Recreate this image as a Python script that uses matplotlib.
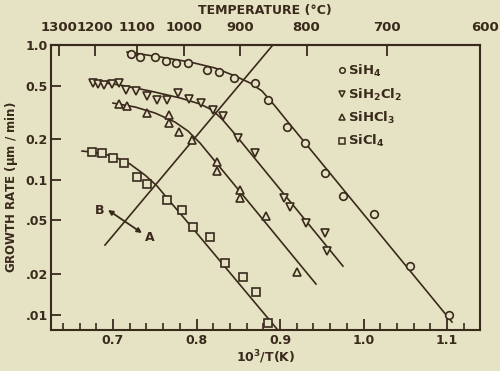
import matplotlib
matplotlib.use('Agg')
import matplotlib.pyplot as plt
from matplotlib.lines import Line2D
from matplotlib.ticker import NullLocator, FixedLocator

BG = '#e6e2c4'
INK = '#3a2a1c'

# --- measured points (x = 10^3/T(K), y = growth rate um/min) ---
sih4_x = [0.722, 0.732, 0.750, 0.764, 0.776, 0.790, 0.813, 0.827, 0.845, 0.870,
          0.886, 0.908, 0.930, 0.954, 0.975, 1.013, 1.056, 1.102]
sih4_y = [0.858, 0.81, 0.81, 0.765, 0.739, 0.732, 0.652, 0.627, 0.566, 0.52,
          0.391, 0.245, 0.1885, 0.1117, 0.0759, 0.0555, 0.023, 0.00993]

sih2cl2_x = [0.676, 0.682, 0.689, 0.699, 0.707, 0.716, 0.728, 0.741, 0.753, 0.765, 0.778,
             0.791, 0.805, 0.820, 0.832, 0.850, 0.870, 0.905, 0.912, 0.931, 0.954, 0.956]
sih2cl2_y = [0.523, 0.514, 0.505, 0.514, 0.523, 0.464, 0.456, 0.419, 0.391, 0.391, 0.44,
             0.398, 0.371, 0.33, 0.297, 0.204, 0.158, 0.0733, 0.0629, 0.0478, 0.0403, 0.0296]

sihcl3_x = [0.7072, 0.7168, 0.7407, 0.7671, 0.7671, 0.779, 0.7946, 0.8246, 0.8246,
            0.8521, 0.8521, 0.8832, 0.9204]
sihcl3_y = [0.365, 0.353, 0.313, 0.302, 0.264, 0.226, 0.197, 0.1355, 0.1162,
            0.084, 0.0733, 0.0539, 0.0207]

sicl4_x = [0.6749, 0.6868, 0.700, 0.7132, 0.7287, 0.7407, 0.7647, 0.7826, 0.7958,
           0.8162, 0.8341, 0.8557, 0.8713, 0.8856]
sicl4_y = [0.1608, 0.158, 0.145, 0.1332, 0.105, 0.093, 0.0708, 0.0597, 0.0447,
           0.0377, 0.0242, 0.019, 0.0147, 0.00867]

# --- drawn fit curves (knots) ---
sih4_fit_x = [0.7168, 0.7563, 0.7922, 0.8222, 0.8461, 0.8641, 0.8784, 0.894, 0.9096, 1.106]
sih4_fit_y = [0.887, 0.815, 0.748, 0.675, 0.589, 0.523, 0.456, 0.353, 0.268, 0.00881]

sih2cl2_fit_x = [0.6725, 0.7084, 0.7443, 0.7802, 0.8042, 0.8186, 0.8305, 0.8449, 0.9754]
sih2cl2_fit_y = [0.541, 0.505, 0.456, 0.405, 0.365, 0.33, 0.2825, 0.2225, 0.0229]

sihcl3_fit_x = [0.700, 0.7263, 0.7503, 0.7743, 0.7898, 0.8042, 0.9431]
sihcl3_fit_y = [0.371, 0.347, 0.313, 0.268, 0.230, 0.1875, 0.01686]

sicl4_fit_x = [0.6629, 0.6844, 0.7024, 0.7204, 0.7383, 0.7527, 0.7647, 0.7922, 0.8964]
sicl4_fit_y = [0.1635, 0.158, 0.1476, 0.131, 0.1085, 0.09, 0.0733, 0.0462, 0.00782]

# transition line
trans_x = [0.6904, 0.8904]
trans_y = [0.0328, 0.983]

# arrow B <-> A
arrow_x = [0.694, 0.7347]
arrow_y = [0.0597, 0.0403]

bottom_ticks = [0.7, 0.8, 0.9, 1.0, 1.1]
bottom_labels = ['0.7', '0.8', '0.9', '1.0', '1.1']
left_ticks = [0.01, 0.02, 0.05, 0.1, 0.2, 0.5, 1.0]
left_labels = ['.01', '.02', '.05', '0.1', '0.2', '0.5', '1.0']
top_ticks = [1300, 1200, 1100, 1000, 900, 800, 700, 600]
top_labels = ['1300', '1200', '1100', '1000', '900', '800', '700', '600']

labels = ['SiH$_4$', 'SiH$_2$Cl$_2$', 'SiHCl$_3$', 'SiCl$_4$']
markers = ['o', 'v', '^', 's']

plt.rcParams['font.family'] = ['DejaVu Sans']
plt.rcParams['mathtext.default'] = 'regular'

fig = plt.figure(figsize=(5, 3.71), dpi=100, facecolor=BG)
ax = fig.add_axes([0.1014, 0.1105, 0.8586, 0.7682], facecolor=BG)
ax.set_yscale('log')
ax.set_xlim(0.6254, 1.1395)
ax.set_ylim(0.00769, 1.0)

lw = 1.2
for fx, fy in [(sih4_fit_x, sih4_fit_y), (sih2cl2_fit_x, sih2cl2_fit_y),
               (sihcl3_fit_x, sihcl3_fit_y), (sicl4_fit_x, sicl4_fit_y)]:
    ax.plot(fx, fy, color=INK, lw=lw, zorder=2)
ax.plot(trans_x, trans_y, color=INK, lw=lw, zorder=2)

for (px, py), m in zip([(sih4_x, sih4_y), (sih2cl2_x, sih2cl2_y),
                        (sihcl3_x, sihcl3_y), (sicl4_x, sicl4_y)], markers):
    ax.plot(px, py, ls='none', marker=m, ms=5.5, mfc=BG, mec=INK, mew=1.2, zorder=3)

ax.annotate('', xy=(arrow_x[1], arrow_y[1]), xytext=(arrow_x[0], arrow_y[0]),
            arrowprops=dict(arrowstyle='<|-|>', color=INK, lw=1.3, mutation_scale=7,
                            shrinkA=0, shrinkB=0))
ax.text(arrow_x[0] - 0.004, arrow_y[0], 'B', color=INK, fontsize=9, fontweight='bold',
        ha='right', va='center')
ax.text(arrow_x[1] + 0.004, arrow_y[1] * 0.93, 'A', color=INK, fontsize=9, fontweight='bold',
        ha='left', va='center')

# axes styling
for s in ax.spines.values():
    s.set_color(INK)
    s.set_linewidth(1.5)

ax.xaxis.set_major_locator(FixedLocator(bottom_ticks))
ax.set_xticklabels(bottom_labels)
ax.xaxis.set_minor_locator(FixedLocator([0.64 + 0.02 * i for i in range(25)]))
ax.yaxis.set_major_locator(FixedLocator(left_ticks))
ax.set_yticklabels(left_labels)
ax.yaxis.set_minor_locator(NullLocator())
ax.tick_params(axis='x', which='major', direction='in', length=8, width=1.3,
               colors=INK, labelsize=9, pad=3, top=False)
ax.tick_params(axis='x', which='minor', direction='in', length=5, width=1.2,
               colors=INK, top=False)
ax.tick_params(axis='y', which='major', direction='in', length=7, width=1.3,
               colors=INK, labelsize=9, pad=2, right=False)
for t in ax.get_xticklabels() + ax.get_yticklabels():
    t.set_fontweight('bold')

to_c = lambda x: 1000.0 / x - 273.15
to_inv = lambda t: 1000.0 / (t + 273.15)
sec = ax.secondary_xaxis('top', functions=(to_c, to_inv))
sec.set_xticks(top_ticks[:-1])
sec.set_xticklabels(top_labels[:-1])
sec.xaxis.set_minor_locator(NullLocator())
sec.tick_params(axis='x', direction='in', length=8, width=1.3, colors=INK,
                labelsize=9.5, pad=8)
for t in sec.get_xticklabels():
    t.set_fontweight('bold')
sec.spines['top'].set_color(INK)
sec.spines['top'].set_linewidth(1.5)
sec.set_xlabel('TEMPERATURE (°C)', color=INK, fontsize=9, fontweight='bold', labelpad=5)

# last top label (600 °C) sits just past the right edge of the frame
ax.annotate(top_labels[-1], xy=(to_inv(top_ticks[-1]), 1.0),
            xycoords=('data', 'axes fraction'), xytext=(0, 8),
            textcoords='offset points', ha='center', va='bottom', color=INK,
            fontsize=9.5, fontweight='bold', annotation_clip=False)

ax.set_xlabel('10$^3$/T(K)', color=INK, fontsize=9, fontweight='bold', labelpad=1)
ax.set_ylabel('GROWTH RATE ($\\mu$m / min)', color=INK, fontsize=8.5, fontweight='bold',
              labelpad=4)

handles = [Line2D([], [], ls='none', marker=m, ms=4, mfc=BG, mec=INK, mew=1.1) for m in markers]
leg = ax.legend(handles, labels, loc='upper left', bbox_to_anchor=(0.655, 0.955),
                frameon=False, handletextpad=0.15, labelspacing=0.55, fontsize=9.5,
                handlelength=0.7, borderaxespad=0)
for t in leg.get_texts():
    t.set_color(INK)
    t.set_fontweight('bold')

fig.savefig('out.png', dpi=100, facecolor=BG)
